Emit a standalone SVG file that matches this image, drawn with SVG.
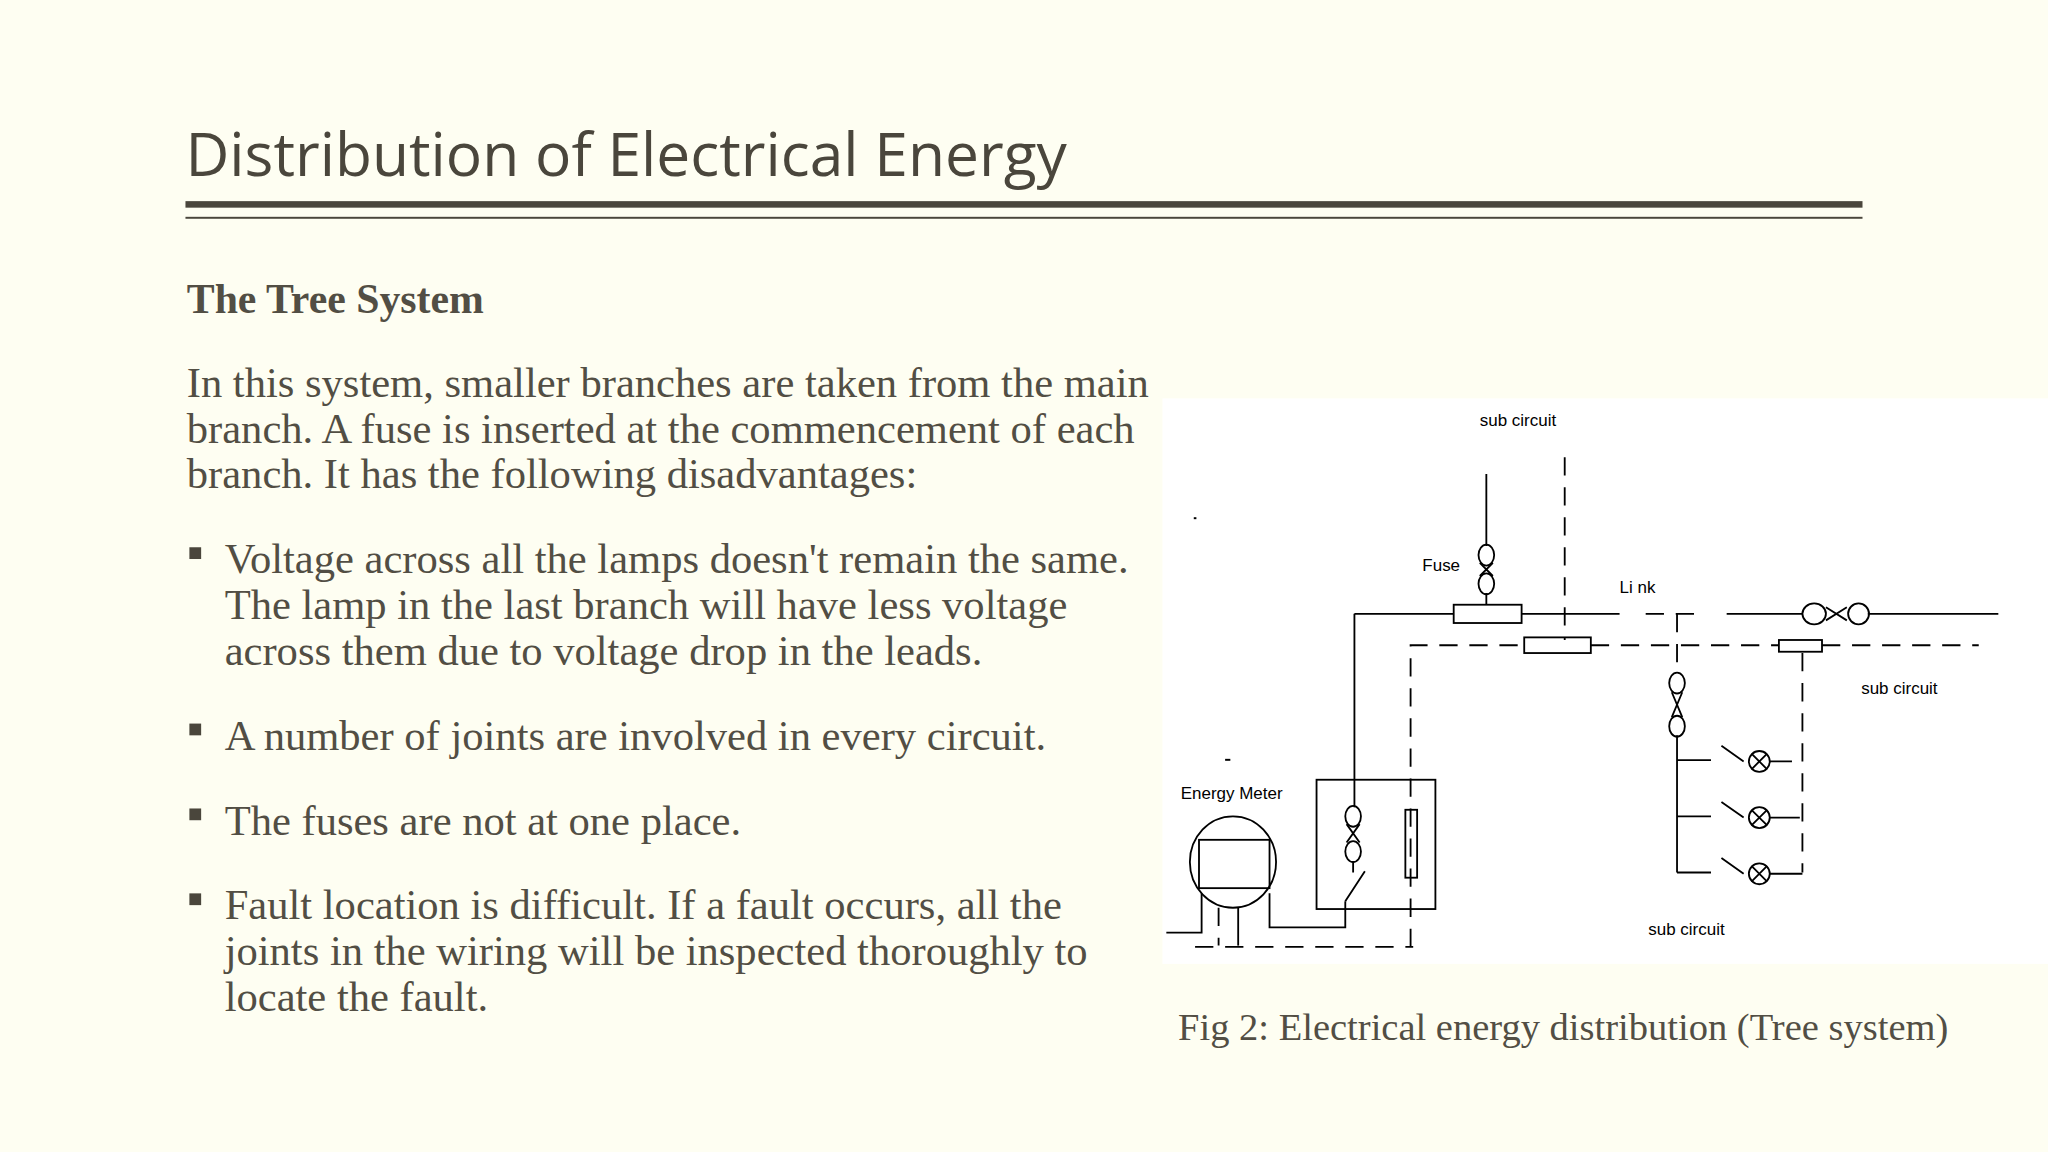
<svg xmlns="http://www.w3.org/2000/svg" width="2048" height="1152" viewBox="0 0 2048 1152">
<style>
.t{font-family:"Liberation Serif",serif;fill:#524e44;font-size:32.6px}
.d{font-family:"Liberation Sans",Arial,sans-serif;font-size:13px;fill:#000}
.w{stroke:#000;stroke-width:1.4;fill:none}
.k{stroke:#000;stroke-width:1.4;fill:none;stroke-dasharray:14 9}
</style>
<rect width="2048" height="1152" fill="#fefef2"/>
<g transform="scale(1.3061)">
<g id="title">
<text x="142" y="135" style="font-family:'Open Sans',sans-serif;font-size:46.3px;fill:#4a463c">Distribution of Electrical Energy</text>
<rect x="142" y="154" width="1284" height="5" fill="#4a463c"/>
<rect x="142" y="166" width="1284" height="1.5" fill="#4a463c"/>
</g>
<g id="text">
<text class="t" x="143" y="240" font-weight="bold" style="font-size:32px">The Tree System</text>
<text class="t" x="143" y="304">In this system, smaller branches are taken from the main</text>
<text class="t" x="143" y="339">branch. A fuse is inserted at the commencement of each</text>
<text class="t" x="143" y="374">branch. It has the following disadvantages:</text>
<rect x="145" y="419" width="9" height="9" fill="#4a463c"/>
<text class="t" x="172" y="439">Voltage across all the lamps doesn't remain the same.</text>
<text class="t" x="172" y="474">The lamp in the last branch will have less voltage</text>
<text class="t" x="172" y="509">across them due to voltage drop in the leads.</text>
<rect x="145" y="554" width="9" height="9" fill="#4a463c"/>
<text class="t" x="172" y="574">A number of joints are involved in every circuit.</text>
<rect x="145" y="619" width="9" height="9" fill="#4a463c"/>
<text class="t" x="172" y="639">The fuses are not at one place.</text>
<rect x="145" y="684" width="9" height="9" fill="#4a463c"/>
<text class="t" x="172" y="704">Fault location is difficult. If a fault occurs, all the</text>
<text class="t" x="172" y="739">joints in the wiring will be inspected thoroughly to</text>
<text class="t" x="172" y="774">locate the fault.</text>
<text class="t" x="902" y="796" style="font-size:29.5px">Fig 2: Electrical energy distribution (Tree system)</text>
</g>
<g id="figure">
<rect x="890" y="305" width="678" height="433" fill="#fff"/>
<text class="d" x="1133" y="326">sub circuit</text>
<text class="d" x="1089" y="437">Fuse</text>
<text class="d" x="1240" y="454">Li nk</text>
<text class="d" x="1425" y="531">sub circuit</text>
<text class="d" x="1262" y="716">sub circuit</text>
<text class="d" x="904" y="612">Energy Meter</text>
<rect x="914" y="396" width="2" height="1.5" fill="#000"/>
<rect x="938" y="581" width="4" height="1.5" fill="#000"/>
<path class="w" d="M1138 363V418M1138 454V463"/>
<ellipse class="w" cx="1138" cy="425" rx="6" ry="8"/>
<ellipse class="w" cx="1138" cy="447" rx="6" ry="8"/>
<path class="w" d="M1133 431L1143 441M1143 431L1133 441"/>
<path class="k" d="M1198 350V490"/>
<path class="w" d="M1037 470H1113M1165 470H1240M1322 470H1380M1430 470H1530" stroke-width="1.6"/>
<path class="k" d="M1260 470H1300"/>
<rect class="w" x="1113" y="463" width="52" height="14"/>
<ellipse class="w" cx="1389" cy="470" rx="9" ry="8"/>
<ellipse class="w" cx="1423" cy="470" rx="8" ry="8"/>
<path class="w" d="M1398 465L1414 475M1398 475L1414 465"/>
<path class="k" d="M1080 725V494H1167M1218 494H1362M1395 494H1515"/>
<rect class="w" x="1167" y="488" width="51" height="12"/>
<rect class="w" x="1362" y="490" width="33" height="9"/>
<rect class="w" x="1008" y="597" width="91" height="99"/>
<path class="w" d="M1037 470V618M1036 660V668M1030 690L1045 667"/>
<ellipse class="w" cx="1036" cy="625" rx="6" ry="8"/>
<ellipse class="w" cx="1036" cy="652" rx="6" ry="8"/>
<path class="w" d="M1031 631L1041 645M1041 631L1031 645"/>
<rect class="w" x="1076" y="620" width="9" height="52"/>
<ellipse class="w" cx="944" cy="660" rx="33" ry="35"/>
<rect class="w" x="918" y="643" width="54" height="37"/>
<path class="w" d="M893 714H920V684M972 684V710H1030V690" stroke-width="1.6"/>
<path class="w" d="M948 695V724"/>
<path class="k" d="M933 695V724M915 725H1082" stroke-dasharray="10 8"/>
<path class="k" d="M1284 470V515"/>
<ellipse class="w" cx="1284" cy="523" rx="6" ry="8"/>
<ellipse class="w" cx="1284" cy="556" rx="6" ry="8"/>
<path class="w" d="M1280 530L1288 549M1288 530L1280 549"/>
<path class="w" d="M1284 563V668"/>
<path class="k" d="M1380 500V668"/>
<g id="lamps">
<path class="w" d="M1284 582H1310M1318 571L1335 583M1355 583H1372"/>
<circle class="w" cx="1347" cy="583" r="8"/><path class="w" d="M1341 577L1353 589M1353 577L1341 589"/>
<path class="w" d="M1284 625H1310M1318 614L1335 626M1355 626H1378"/>
<circle class="w" cx="1347" cy="626" r="8"/><path class="w" d="M1341 620L1353 632M1353 620L1341 632"/>
<path class="w" d="M1284 668H1310M1318 657L1335 669M1355 669H1380"/>
<circle class="w" cx="1347" cy="669" r="8"/><path class="w" d="M1341 663L1353 675M1353 663L1341 675"/>
</g>
</g>
</g>
</svg>
